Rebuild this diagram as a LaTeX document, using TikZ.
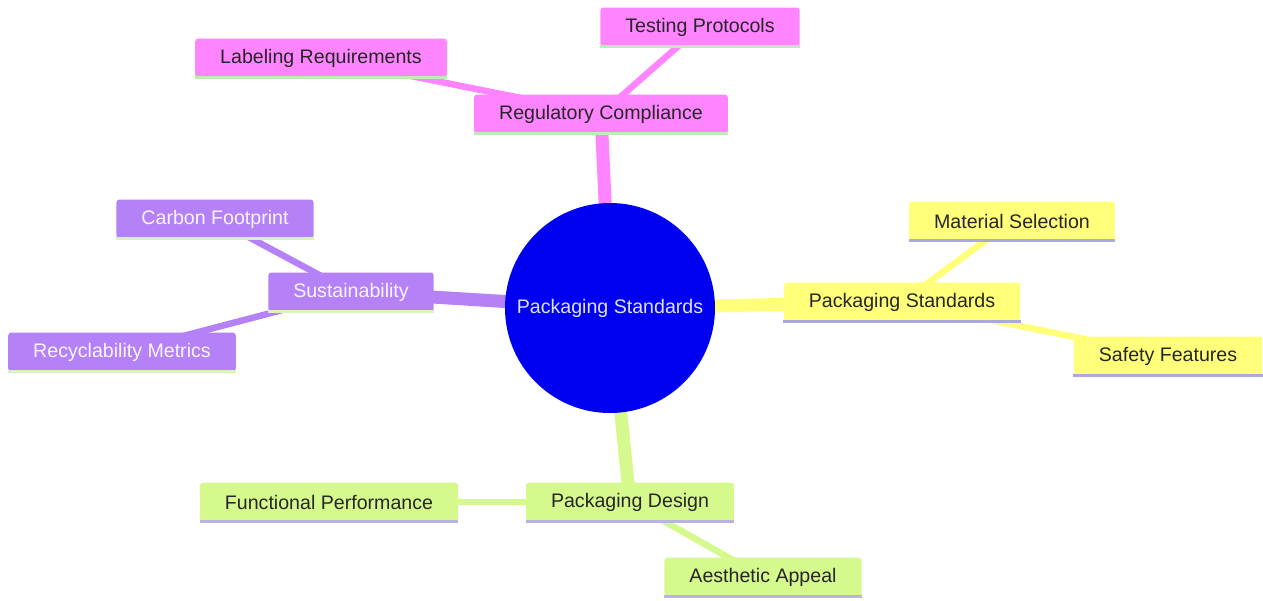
\documentclass[tikz,border=0pt]{standalone}
\usepackage{fontspec}
\setmainfont{Liberation Sans}
\usetikzlibrary{backgrounds}
\definecolor{pinkfill}{HTML}{FF84FF}
\definecolor{pinkline}{HTML}{BDECB4}
\definecolor{purplefill}{HTML}{B581F7}
\definecolor{purpleline}{HTML}{D8F2C2}
\definecolor{yellowfill}{HTML}{FFFF7A}
\definecolor{yellowline}{HTML}{A9A9DF}
\definecolor{greenfill}{HTML}{D5F98C}
\definecolor{greenline}{HTML}{B9B3E0}
\definecolor{rootfill}{HTML}{0000F0}
\tikzset{
  box/.style={rectangle, rounded corners=1.5pt, minimum height=19.5pt, inner xsep=12.5pt, inner ysep=0pt, font=\fontsize{9.8}{11}\selectfont},
  pinkbox/.style={box, fill=pinkfill, text=black!85, append after command={(\tikzlastnode.south west) edge[draw=pinkline, line width=1.5pt] (\tikzlastnode.south east)}},
  purplebox/.style={box, fill=purplefill, text=white!92!purplefill, append after command={(\tikzlastnode.south west) edge[draw=purpleline, line width=1.5pt] (\tikzlastnode.south east)}},
  yellowbox/.style={box, fill=yellowfill, text=black!85, append after command={(\tikzlastnode.south west) edge[draw=yellowline, line width=1.5pt] (\tikzlastnode.south east)}},
  greenbox/.style={box, fill=greenfill, text=black!85, append after command={(\tikzlastnode.south west) edge[draw=greenline, line width=1.5pt] (\tikzlastnode.south east)}},
  mainlink/.style={line width=6.5pt},
  sublink/.style={line width=3.25pt}
}
\begin{document}
\begin{tikzpicture}[x=0.5pt, y=-0.5pt]
\useasboundingbox (0,0) rectangle (1263,600);
\node[circle, fill=rootfill, text=white!88!blue, minimum size=105pt, inner sep=0pt, font=\fontsize{9.8}{11}\selectfont] (root) at (610,308){Packaging Standards};
\node[pinkbox] (reg) at (601,114){Regulatory Compliance};
\node[pinkbox] (test) at (700,27){Testing Protocols};
\node[pinkbox] (lab) at (321,58){Labeling Requirements};
\node[purplebox] (sus) at (351,292){Sustainability};
\node[purplebox] (carb) at (215,219){Carbon Footprint};
\node[purplebox] (recy) at (122,352){Recyclability Metrics};
\node[yellowbox] (std) at (902,302){Packaging Standards};
\node[yellowbox] (mat) at (1012,221){Material Selection};
\node[yellowbox] (safe) at (1168,356){Safety Features};
\node[greenbox] (des) at (630,502){Packaging Design};
\node[greenbox] (func) at (329,502){Functional Performance};
\node[greenbox] (aes) at (763,577){Aesthetic Appeal};
\begin{pgfonlayer}{background}
\draw[mainlink, pinkfill](root.center) -- (reg.center);
\draw[sublink, pinkfill](reg.center) -- (test.center);
\draw[sublink, pinkfill](reg.center) -- (lab.center);
\draw[mainlink, purplefill](root.center) -- (sus.center);
\draw[sublink, purplefill](sus.center) -- (carb.center);
\draw[sublink, purplefill](sus.center) -- (recy.center);
\draw[mainlink, yellowfill](root.center) -- (std.center);
\draw[sublink, yellowfill](std.center) -- (mat.center);
\draw[sublink, yellowfill](std.center) -- (safe.center);
\draw[mainlink, greenfill](root.center) -- (des.center);
\draw[sublink, greenfill](des.center) -- (func.center);
\draw[sublink, greenfill](des.center) -- (aes.center);
\end{pgfonlayer}
\end{tikzpicture}
\end{document}
